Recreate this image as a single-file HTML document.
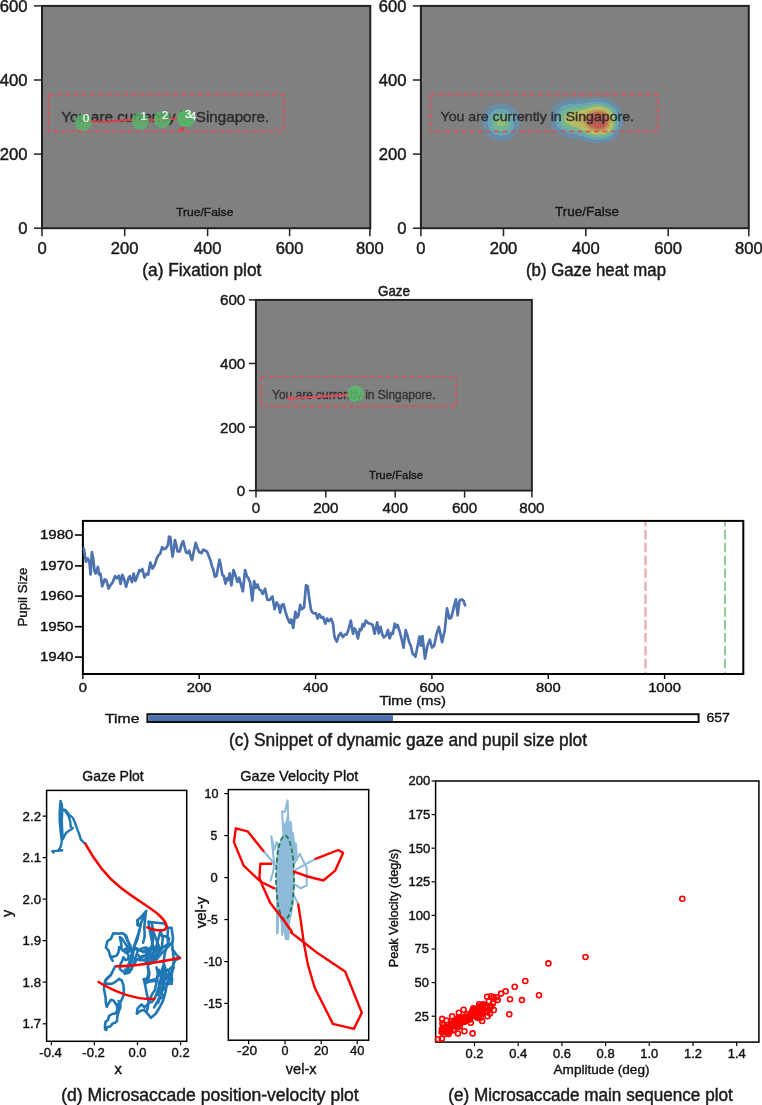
<!DOCTYPE html>
<html lang="en"><head><meta charset="utf-8"><title>Eye tracking figure</title>
<style>html,body{margin:0;padding:0;background:#fff}svg{display:block}</style></head>
<body>
<svg width="762" height="1105" viewBox="0 0 762 1105" font-family='"Liberation Sans", sans-serif'>
<defs>
<filter id="heat" filterUnits="userSpaceOnUse" x="440" y="60" width="260" height="130" color-interpolation-filters="sRGB">
<feGaussianBlur stdDeviation="10"/>
<feColorMatrix type="matrix" values="0 0 0 14.3 0  0 0 0 14.3 0  0 0 0 14.3 0  0 0 0 14.3 0"/>
<feComponentTransfer>
<feFuncR type="discrete" tableValues="0.196 0.196 0.282 0.400 0.675 0.988 1.000 1.000 1.000 1.000"/>
<feFuncG type="discrete" tableValues="0.667 0.667 0.871 0.949 1.000 1.000 0.910 0.675 0.400 0.204"/>
<feFuncB type="discrete" tableValues="1.000 1.000 0.949 0.675 0.439 0.282 0.204 0.165 0.125 0.125"/>
<feFuncA type="discrete" tableValues="0 0.32 0.42 0.46 0.48 0.48 0.48 0.48 0.48 0.48"/>
</feComponentTransfer>
<feGaussianBlur stdDeviation="0.5"/>
</filter>
<clipPath id="vclip"><rect x="229" y="790.3" width="139" height="249.2"/></clipPath>
</defs>
<rect width="762" height="1105" fill="#ffffff"/>
<rect x="42.00" y="5.90" width="328.30" height="222.30" fill="#808080" stroke="#222222" stroke-width="2.0"/>
<line x1="42.00" y1="228.20" x2="42.00" y2="236.20" stroke="#222222" stroke-width="1.5"/>
<text x="42.0" y="254.2" font-size="16.6" text-anchor="middle" fill="#1a1a1a" stroke="#1a1a1a" stroke-width="0.45">0</text>
<line x1="124.70" y1="228.20" x2="124.70" y2="236.20" stroke="#222222" stroke-width="1.5"/>
<text x="124.7" y="254.2" font-size="16.6" text-anchor="middle" fill="#1a1a1a" stroke="#1a1a1a" stroke-width="0.45">200</text>
<line x1="207.60" y1="228.20" x2="207.60" y2="236.20" stroke="#222222" stroke-width="1.5"/>
<text x="207.6" y="254.2" font-size="16.6" text-anchor="middle" fill="#1a1a1a" stroke="#1a1a1a" stroke-width="0.45">400</text>
<line x1="289.60" y1="228.20" x2="289.60" y2="236.20" stroke="#222222" stroke-width="1.5"/>
<text x="289.6" y="254.2" font-size="16.6" text-anchor="middle" fill="#1a1a1a" stroke="#1a1a1a" stroke-width="0.45">600</text>
<line x1="369.90" y1="228.20" x2="369.90" y2="236.20" stroke="#222222" stroke-width="1.5"/>
<text x="369.9" y="254.2" font-size="16.6" text-anchor="middle" fill="#1a1a1a" stroke="#1a1a1a" stroke-width="0.45">800</text>
<line x1="34.00" y1="228.20" x2="42.00" y2="228.20" stroke="#222222" stroke-width="1.5"/>
<text x="27.5" y="234.2" font-size="16.6" text-anchor="end" fill="#1a1a1a" stroke="#1a1a1a" stroke-width="0.45">0</text>
<line x1="34.00" y1="154.10" x2="42.00" y2="154.10" stroke="#222222" stroke-width="1.5"/>
<text x="27.5" y="160.1" font-size="16.6" text-anchor="end" fill="#1a1a1a" stroke="#1a1a1a" stroke-width="0.45">200</text>
<line x1="34.00" y1="80.00" x2="42.00" y2="80.00" stroke="#222222" stroke-width="1.5"/>
<text x="27.5" y="86.0" font-size="16.6" text-anchor="end" fill="#1a1a1a" stroke="#1a1a1a" stroke-width="0.45">400</text>
<line x1="34.00" y1="5.90" x2="42.00" y2="5.90" stroke="#222222" stroke-width="1.5"/>
<text x="27.5" y="11.9" font-size="16.6" text-anchor="end" fill="#1a1a1a" stroke="#1a1a1a" stroke-width="0.45">600</text>
<rect x="48.5" y="94.6" width="235.2" height="37" fill="none" stroke="#e34a54" stroke-width="1.5" stroke-dasharray="4.8 3.5"/>
<text x="61.2" y="121.6" font-size="14.3" text-anchor="start" textLength="208.1" lengthAdjust="spacingAndGlyphs" fill="#2b2b2b" stroke="#2b2b2b" stroke-width="0.35">You are currently in Singapore.</text>
<polyline points="83.2,122.2 92.0,121.2 100.4,122.0 129.8,119.9 140.3,121.1 162.3,119.4 185.4,118.3" fill="none" stroke="#dc3f49" stroke-width="2.2" stroke-linejoin="round" stroke-linecap="round" opacity="0.95"/>
<polyline points="187.5,123.5 185.6,127.4 182.4,128.6" fill="none" stroke="#dc3f49" stroke-width="1.4" stroke-linejoin="round" stroke-linecap="round" opacity="0.95"/>
<path d="M178.6 129.6 L183.6 126.2 L184.2 131.4 Z" fill="#dc3f49"/>
<circle cx="83.2" cy="122.5" r="8.6" fill="#57b469" fill-opacity="0.8"/>
<circle cx="140.3" cy="121.1" r="8.6" fill="#57b469" fill-opacity="0.8"/>
<circle cx="162.3" cy="119.4" r="8.6" fill="#57b469" fill-opacity="0.8"/>
<circle cx="185.4" cy="118.3" r="8.6" fill="#57b469" fill-opacity="0.8"/>
<circle cx="186.6" cy="118.6" r="8.6" fill="#57b469" fill-opacity="0.8"/>
<text x="86.1" y="122.3" font-size="11.2" text-anchor="middle" fill="#ffffff" stroke="#ffffff" stroke-width="0.15">0</text>
<text x="143.9" y="120.2" font-size="11.2" text-anchor="middle" fill="#ffffff" stroke="#ffffff" stroke-width="0.15">1</text>
<text x="165.1" y="118.8" font-size="11.2" text-anchor="middle" fill="#ffffff" stroke="#ffffff" stroke-width="0.15">2</text>
<text x="188.0" y="118.1" font-size="11.2" text-anchor="middle" fill="#ffffff" stroke="#ffffff" stroke-width="0.15">3</text>
<text x="193.0" y="120.2" font-size="11.2" text-anchor="middle" fill="#ffffff" stroke="#ffffff" stroke-width="0.15">4</text>
<text x="204.7" y="215.6" font-size="11.8" text-anchor="middle" textLength="57.5" lengthAdjust="spacingAndGlyphs" fill="#151515" stroke="#151515" stroke-width="0.35">True/False</text>
<text x="201.8" y="276.0" font-size="17.5" text-anchor="middle" textLength="119.0" lengthAdjust="spacingAndGlyphs" fill="#1a1a1a" stroke="#1a1a1a" stroke-width="0.45">(a) Fixation plot</text>
<rect x="420.90" y="5.90" width="327.90" height="222.30" fill="#808080" stroke="#222222" stroke-width="2.0"/>
<line x1="420.90" y1="228.20" x2="420.90" y2="236.20" stroke="#222222" stroke-width="1.5"/>
<text x="420.9" y="254.2" font-size="16.6" text-anchor="middle" fill="#1a1a1a" stroke="#1a1a1a" stroke-width="0.45">0</text>
<line x1="503.50" y1="228.20" x2="503.50" y2="236.20" stroke="#222222" stroke-width="1.5"/>
<text x="503.5" y="254.2" font-size="16.6" text-anchor="middle" fill="#1a1a1a" stroke="#1a1a1a" stroke-width="0.45">200</text>
<line x1="585.80" y1="228.20" x2="585.80" y2="236.20" stroke="#222222" stroke-width="1.5"/>
<text x="585.8" y="254.2" font-size="16.6" text-anchor="middle" fill="#1a1a1a" stroke="#1a1a1a" stroke-width="0.45">400</text>
<line x1="668.20" y1="228.20" x2="668.20" y2="236.20" stroke="#222222" stroke-width="1.5"/>
<text x="668.2" y="254.2" font-size="16.6" text-anchor="middle" fill="#1a1a1a" stroke="#1a1a1a" stroke-width="0.45">600</text>
<line x1="748.80" y1="228.20" x2="748.80" y2="236.20" stroke="#222222" stroke-width="1.5"/>
<text x="748.8" y="254.2" font-size="16.6" text-anchor="middle" fill="#1a1a1a" stroke="#1a1a1a" stroke-width="0.45">800</text>
<line x1="412.90" y1="228.20" x2="420.90" y2="228.20" stroke="#222222" stroke-width="1.5"/>
<text x="406.4" y="234.2" font-size="16.6" text-anchor="end" fill="#1a1a1a" stroke="#1a1a1a" stroke-width="0.45">0</text>
<line x1="412.90" y1="154.10" x2="420.90" y2="154.10" stroke="#222222" stroke-width="1.5"/>
<text x="406.4" y="160.1" font-size="16.6" text-anchor="end" fill="#1a1a1a" stroke="#1a1a1a" stroke-width="0.45">200</text>
<line x1="412.90" y1="80.00" x2="420.90" y2="80.00" stroke="#222222" stroke-width="1.5"/>
<text x="406.4" y="86.0" font-size="16.6" text-anchor="end" fill="#1a1a1a" stroke="#1a1a1a" stroke-width="0.45">400</text>
<line x1="412.90" y1="5.90" x2="420.90" y2="5.90" stroke="#222222" stroke-width="1.5"/>
<text x="406.4" y="11.9" font-size="16.6" text-anchor="end" fill="#1a1a1a" stroke="#1a1a1a" stroke-width="0.45">600</text>
<g filter="url(#heat)">
<ellipse cx="501.0" cy="122.2" rx="4" ry="4" fill="#fff" fill-opacity="0.4"/>
<ellipse cx="600.0" cy="120.8" rx="6.0" ry="3.4" fill="#fff" fill-opacity="0.8"/>
<ellipse cx="585.0" cy="119.8" rx="4" ry="4" fill="#fff" fill-opacity="0.22"/>
<ellipse cx="569.0" cy="118.4" rx="4.5" ry="4" fill="#fff" fill-opacity="0.36"/>
</g>
<text x="440.5" y="121.2" font-size="13.6" text-anchor="start" textLength="193.5" lengthAdjust="spacingAndGlyphs" fill="#2a2a2a" stroke="#2a2a2a" stroke-width="0.4" opacity="0.95">You are currently in Singapore.</text>
<rect x="430.2" y="94.6" width="227.7" height="37" fill="none" stroke="#e34a54" stroke-width="1.5" stroke-dasharray="4.8 3.5"/>
<text x="587.0" y="215.8" font-size="12.2" text-anchor="middle" textLength="64.0" lengthAdjust="spacingAndGlyphs" fill="#151515" stroke="#151515" stroke-width="0.35">True/False</text>
<text x="596.0" y="276.0" font-size="17.5" text-anchor="middle" textLength="140.0" lengthAdjust="spacingAndGlyphs" fill="#1a1a1a" stroke="#1a1a1a" stroke-width="0.45">(b) Gaze heat map</text>
<rect x="255.90" y="299.90" width="276.00" height="190.70" fill="#808080" stroke="#222222" stroke-width="1.9"/>
<line x1="256.00" y1="490.60" x2="256.00" y2="497.60" stroke="#222222" stroke-width="1.5"/>
<text x="256.0" y="513.2" font-size="15.2" text-anchor="middle" fill="#1a1a1a" stroke="#1a1a1a" stroke-width="0.45">0</text>
<line x1="325.80" y1="490.60" x2="325.80" y2="497.60" stroke="#222222" stroke-width="1.5"/>
<text x="325.8" y="513.2" font-size="15.2" text-anchor="middle" fill="#1a1a1a" stroke="#1a1a1a" stroke-width="0.45">200</text>
<line x1="395.20" y1="490.60" x2="395.20" y2="497.60" stroke="#222222" stroke-width="1.5"/>
<text x="395.2" y="513.2" font-size="15.2" text-anchor="middle" fill="#1a1a1a" stroke="#1a1a1a" stroke-width="0.45">400</text>
<line x1="464.60" y1="490.60" x2="464.60" y2="497.60" stroke="#222222" stroke-width="1.5"/>
<text x="464.6" y="513.2" font-size="15.2" text-anchor="middle" fill="#1a1a1a" stroke="#1a1a1a" stroke-width="0.45">600</text>
<line x1="531.90" y1="490.60" x2="531.90" y2="497.60" stroke="#222222" stroke-width="1.5"/>
<text x="531.9" y="513.2" font-size="15.2" text-anchor="middle" fill="#1a1a1a" stroke="#1a1a1a" stroke-width="0.45">800</text>
<line x1="248.90" y1="490.60" x2="255.90" y2="490.60" stroke="#222222" stroke-width="1.5"/>
<text x="245.3" y="496.1" font-size="15.2" text-anchor="end" fill="#1a1a1a" stroke="#1a1a1a" stroke-width="0.45">0</text>
<line x1="248.90" y1="427.03" x2="255.90" y2="427.03" stroke="#222222" stroke-width="1.5"/>
<text x="245.3" y="432.5" font-size="15.2" text-anchor="end" fill="#1a1a1a" stroke="#1a1a1a" stroke-width="0.45">200</text>
<line x1="248.90" y1="363.47" x2="255.90" y2="363.47" stroke="#222222" stroke-width="1.5"/>
<text x="245.3" y="368.9" font-size="15.2" text-anchor="end" fill="#1a1a1a" stroke="#1a1a1a" stroke-width="0.45">400</text>
<line x1="248.90" y1="299.90" x2="255.90" y2="299.90" stroke="#222222" stroke-width="1.5"/>
<text x="245.3" y="305.4" font-size="15.2" text-anchor="end" fill="#1a1a1a" stroke="#1a1a1a" stroke-width="0.45">600</text>
<text x="394.0" y="295.6" font-size="14.6" text-anchor="middle" textLength="32.0" lengthAdjust="spacingAndGlyphs" fill="#1a1a1a" stroke="#1a1a1a" stroke-width="0.5">Gaze</text>
<rect x="261.1" y="376.6" width="195.1" height="29.7" fill="none" stroke="#e34a54" stroke-width="1.4" stroke-dasharray="4.6 3.2"/>
<text x="272.1" y="398.6" font-size="12.0" text-anchor="start" textLength="163.4" lengthAdjust="spacingAndGlyphs" fill="#333333" stroke="#333333" stroke-width="0.35">You are currently in Singapore.</text>
<line x1="349.00" y1="394.90" x2="289.50" y2="398.50" stroke="#e04c56" stroke-width="2.1"/>
<path d="M286.0 398.8 L292.0 395.6 L292.3 401.2 Z" fill="#e04c56"/>
<circle cx="355.6" cy="393.9" r="8.3" fill="#58c06c" fill-opacity="0.8"/>
<text x="396.0" y="479.0" font-size="11.2" text-anchor="middle" textLength="54.0" lengthAdjust="spacingAndGlyphs" fill="#151515" stroke="#151515" stroke-width="0.35">True/False</text>
<rect x="82.9" y="520.9" width="660.4" height="153.1" fill="#fff" stroke="#000" stroke-width="2"/>
<line x1="82.90" y1="674.00" x2="82.90" y2="679.00" stroke="#000" stroke-width="1.4"/>
<text x="82.9" y="692.0" font-size="12.2" text-anchor="middle" textLength="8.2" lengthAdjust="spacingAndGlyphs" fill="#111" stroke="#111" stroke-width="0.35">0</text>
<line x1="199.24" y1="674.00" x2="199.24" y2="679.00" stroke="#000" stroke-width="1.4"/>
<text x="199.2" y="692.0" font-size="12.2" text-anchor="middle" textLength="24.7" lengthAdjust="spacingAndGlyphs" fill="#111" stroke="#111" stroke-width="0.35">200</text>
<line x1="315.58" y1="674.00" x2="315.58" y2="679.00" stroke="#000" stroke-width="1.4"/>
<text x="315.6" y="692.0" font-size="12.2" text-anchor="middle" textLength="24.7" lengthAdjust="spacingAndGlyphs" fill="#111" stroke="#111" stroke-width="0.35">400</text>
<line x1="431.92" y1="674.00" x2="431.92" y2="679.00" stroke="#000" stroke-width="1.4"/>
<text x="431.9" y="692.0" font-size="12.2" text-anchor="middle" textLength="24.7" lengthAdjust="spacingAndGlyphs" fill="#111" stroke="#111" stroke-width="0.35">600</text>
<line x1="548.26" y1="674.00" x2="548.26" y2="679.00" stroke="#000" stroke-width="1.4"/>
<text x="548.3" y="692.0" font-size="12.2" text-anchor="middle" textLength="24.7" lengthAdjust="spacingAndGlyphs" fill="#111" stroke="#111" stroke-width="0.35">800</text>
<line x1="664.60" y1="674.00" x2="664.60" y2="679.00" stroke="#000" stroke-width="1.4"/>
<text x="664.6" y="692.0" font-size="12.2" text-anchor="middle" textLength="32.9" lengthAdjust="spacingAndGlyphs" fill="#111" stroke="#111" stroke-width="0.35">1000</text>
<line x1="74.90" y1="535.00" x2="82.90" y2="535.00" stroke="#000" stroke-width="1.6"/>
<text x="73.4" y="539.3" font-size="12.2" text-anchor="end" textLength="33.4" lengthAdjust="spacingAndGlyphs" fill="#111" stroke="#111" stroke-width="0.35">1980</text>
<line x1="74.90" y1="565.90" x2="82.90" y2="565.90" stroke="#000" stroke-width="1.6"/>
<text x="73.4" y="570.2" font-size="12.2" text-anchor="end" textLength="33.4" lengthAdjust="spacingAndGlyphs" fill="#111" stroke="#111" stroke-width="0.35">1970</text>
<line x1="74.90" y1="596.10" x2="82.90" y2="596.10" stroke="#000" stroke-width="1.6"/>
<text x="73.4" y="600.4" font-size="12.2" text-anchor="end" textLength="33.4" lengthAdjust="spacingAndGlyphs" fill="#111" stroke="#111" stroke-width="0.35">1960</text>
<line x1="74.90" y1="626.70" x2="82.90" y2="626.70" stroke="#000" stroke-width="1.6"/>
<text x="73.4" y="631.0" font-size="12.2" text-anchor="end" textLength="33.4" lengthAdjust="spacingAndGlyphs" fill="#111" stroke="#111" stroke-width="0.35">1950</text>
<line x1="74.90" y1="657.10" x2="82.90" y2="657.10" stroke="#000" stroke-width="1.6"/>
<text x="73.4" y="661.4" font-size="12.2" text-anchor="end" textLength="33.4" lengthAdjust="spacingAndGlyphs" fill="#111" stroke="#111" stroke-width="0.35">1940</text>
<text transform="translate(26.6,597.0) rotate(-90)" font-size="13.4" stroke="#111" stroke-width="0.35" text-anchor="middle" textLength="59" lengthAdjust="spacingAndGlyphs" fill="#111">Pupil Size</text>
<text x="412.7" y="705.2" font-size="12.6" text-anchor="middle" textLength="66.6" lengthAdjust="spacingAndGlyphs" fill="#111" stroke="#111" stroke-width="0.35">Time (ms)</text>
<line x1="645.50" y1="521.90" x2="645.50" y2="673.00" stroke="#ebb2b6" stroke-width="2.5" stroke-dasharray="9.6 3.3" stroke-dashoffset="5"/>
<line x1="725.00" y1="521.90" x2="725.00" y2="673.00" stroke="#93cc9e" stroke-width="2.1" stroke-dasharray="9.6 3.3" stroke-dashoffset="5"/>
<polyline points="83.8,548.5 85.1,556.6 86.0,561.7 87.7,558.3 89.4,561.7 90.6,574.5 91.9,552.0 93.3,559.1 94.5,571.1 95.7,573.6 97.9,566.8 99.1,574.5 100.5,573.6 102.2,586.4 104.7,579.3 106.4,580.4 108.5,588.5 110.7,584.7 112.4,583.0 115.0,576.2 116.7,578.2 118.9,575.8 120.6,583.9 122.3,574.8 124.0,578.7 126.1,586.8 128.6,577.9 129.8,576.2 132.0,582.2 133.7,573.6 135.4,581.0 137.2,576.2 139.4,570.2 140.6,571.1 142.3,569.0 144.5,577.5 146.5,573.6 148.2,574.5 150.3,562.5 152.5,568.5 154.7,565.1 156.8,558.3 158.8,554.9 160.2,553.7 162.2,547.2 163.9,549.2 166.2,548.0 167.9,545.1 169.1,536.6 170.4,537.3 171.3,547.2 172.6,556.6 173.8,548.9 175.0,540.0 176.4,545.5 177.6,551.4 179.8,551.4 181.5,544.6 183.2,541.2 184.9,548.0 186.1,552.3 187.8,553.1 189.2,550.6 190.9,557.4 192.1,560.0 194.0,550.6 195.7,542.9 197.7,548.9 199.4,552.3 201.5,553.1 203.2,549.7 205.4,550.9 205.0,550.4 207.0,551.7 208.8,556.3 210.5,560.6 211.8,565.7 213.2,569.1 214.9,576.8 216.6,575.9 218.3,565.7 219.5,559.7 220.7,564.9 222.4,575.1 223.8,575.9 225.5,583.6 226.8,578.5 228.0,580.2 229.7,573.4 231.4,585.3 233.5,570.0 234.9,573.4 236.1,577.7 237.4,581.9 239.1,577.7 240.8,583.6 242.9,591.3 245.1,570.0 246.8,575.9 248.5,578.5 250.2,582.8 252.3,600.7 254.1,581.1 255.8,587.9 257.5,584.5 259.3,589.6 261.0,590.4 262.7,593.9 265.1,588.7 267.3,599.8 269.8,599.8 272.4,596.4 274.6,609.2 276.7,602.4 278.4,604.9 280.1,612.6 281.8,604.9 283.5,604.1 285.5,611.8 287.7,618.6 289.8,622.9 291.2,619.4 293.2,628.0 295.4,611.8 297.1,617.7 298.5,615.2 300.2,604.9 301.9,609.2 304.0,607.5 306.0,585.3 307.7,586.2 309.4,599.8 311.1,610.1 312.5,612.6 314.2,613.5 315.9,613.1 317.6,618.6 319.3,614.3 321.4,617.7 323.1,616.9 325.3,623.7 327.0,618.6 328.7,621.2 331.2,618.6 333.0,623.7 334.1,634.0 335.0,638.4 336.8,641.5 338.8,635.6 340.7,632.9 342.9,637.1 344.7,634.7 346.5,634.7 348.4,630.1 350.8,620.6 353.0,633.8 354.4,628.3 356.1,631.0 357.9,638.4 359.8,629.2 361.2,630.1 362.7,624.2 364.0,626.4 365.8,620.6 368.2,623.1 370.4,623.7 372.6,625.0 374.6,633.8 377.2,622.4 378.7,633.4 380.5,626.8 382.4,634.7 383.8,637.5 386.0,635.6 387.9,630.1 389.7,638.4 391.5,632.9 392.8,633.8 394.7,623.7 396.1,627.4 397.6,625.0 399.8,632.0 401.7,639.3 403.5,647.6 405.7,630.1 407.5,635.6 409.4,643.0 410.8,645.7 412.7,654.0 414.1,654.9 415.4,656.8 417.3,647.6 419.5,636.5 420.9,645.7 422.4,636.0 425.0,658.6 427.4,645.7 429.8,639.7 432.0,647.6 434.2,645.7 436.6,633.8 438.9,626.8 442.1,642.1 444.8,630.1 447.0,608.4 449.4,618.7 451.3,617.6 453.5,608.4 455.9,599.3 457.7,615.4 459.5,600.7 461.7,599.3 463.8,601.1 465.0,605.3" fill="none" stroke="#4c72b0" stroke-width="2.7" stroke-linejoin="round" stroke-linecap="round"/>
<text x="122.2" y="722.5" font-size="12.8" text-anchor="middle" textLength="34.4" lengthAdjust="spacingAndGlyphs" fill="#111" stroke="#111" stroke-width="0.35">Time</text>
<rect x="147.4" y="714.2" width="551.2" height="7.8" fill="#fff" stroke="#111" stroke-width="2"/>
<rect x="148.4" y="715.2" width="244.6" height="5.8" fill="#4c72b0"/>
<text x="718.2" y="722.3" font-size="12.6" text-anchor="middle" textLength="23.6" lengthAdjust="spacingAndGlyphs" fill="#111" stroke="#111" stroke-width="0.35">657</text>
<text x="408.0" y="746.2" font-size="17.5" text-anchor="middle" textLength="358.0" lengthAdjust="spacingAndGlyphs" fill="#1a1a1a" stroke="#1a1a1a" stroke-width="0.45">(c) Snippet of dynamic gaze and pupil size plot</text>
<rect x="46.6" y="790.4" width="140.1" height="250.9" fill="#fff" stroke="#000" stroke-width="1.5"/>
<line x1="51.40" y1="1041.30" x2="51.40" y2="1045.30" stroke="#000" stroke-width="1.2"/>
<text x="50.6" y="1057.2" font-size="12.6" text-anchor="middle" textLength="22.6" lengthAdjust="spacingAndGlyphs" fill="#111" stroke="#111" stroke-width="0.4">-0.4</text>
<line x1="94.40" y1="1041.30" x2="94.40" y2="1045.30" stroke="#000" stroke-width="1.2"/>
<text x="93.6" y="1057.2" font-size="12.6" text-anchor="middle" textLength="22.6" lengthAdjust="spacingAndGlyphs" fill="#111" stroke="#111" stroke-width="0.4">-0.2</text>
<line x1="137.50" y1="1041.30" x2="137.50" y2="1045.30" stroke="#000" stroke-width="1.2"/>
<text x="137.5" y="1057.2" font-size="12.6" text-anchor="middle" textLength="18.0" lengthAdjust="spacingAndGlyphs" fill="#111" stroke="#111" stroke-width="0.4">0.0</text>
<line x1="180.60" y1="1041.30" x2="180.60" y2="1045.30" stroke="#000" stroke-width="1.2"/>
<text x="180.6" y="1057.2" font-size="12.6" text-anchor="middle" textLength="18.0" lengthAdjust="spacingAndGlyphs" fill="#111" stroke="#111" stroke-width="0.4">0.2</text>
<line x1="42.60" y1="816.10" x2="46.60" y2="816.10" stroke="#000" stroke-width="1.2"/>
<text x="41.0" y="820.5" font-size="12.6" text-anchor="end" textLength="18.4" lengthAdjust="spacingAndGlyphs" fill="#111" stroke="#111" stroke-width="0.4">2.2</text>
<line x1="42.60" y1="857.60" x2="46.60" y2="857.60" stroke="#000" stroke-width="1.2"/>
<text x="41.0" y="862.0" font-size="12.6" text-anchor="end" textLength="18.4" lengthAdjust="spacingAndGlyphs" fill="#111" stroke="#111" stroke-width="0.4">2.1</text>
<line x1="42.60" y1="899.10" x2="46.60" y2="899.10" stroke="#000" stroke-width="1.2"/>
<text x="41.0" y="903.5" font-size="12.6" text-anchor="end" textLength="18.4" lengthAdjust="spacingAndGlyphs" fill="#111" stroke="#111" stroke-width="0.4">2.0</text>
<line x1="42.60" y1="940.60" x2="46.60" y2="940.60" stroke="#000" stroke-width="1.2"/>
<text x="41.0" y="945.0" font-size="12.6" text-anchor="end" textLength="18.4" lengthAdjust="spacingAndGlyphs" fill="#111" stroke="#111" stroke-width="0.4">1.9</text>
<line x1="42.60" y1="982.10" x2="46.60" y2="982.10" stroke="#000" stroke-width="1.2"/>
<text x="41.0" y="986.5" font-size="12.6" text-anchor="end" textLength="18.4" lengthAdjust="spacingAndGlyphs" fill="#111" stroke="#111" stroke-width="0.4">1.8</text>
<line x1="42.60" y1="1023.80" x2="46.60" y2="1023.80" stroke="#000" stroke-width="1.2"/>
<text x="41.0" y="1028.2" font-size="12.6" text-anchor="end" textLength="18.4" lengthAdjust="spacingAndGlyphs" fill="#111" stroke="#111" stroke-width="0.4">1.7</text>
<text x="113.0" y="781.4" font-size="14.6" text-anchor="middle" textLength="61.5" lengthAdjust="spacingAndGlyphs" fill="#111" stroke="#111" stroke-width="0.35">Gaze Plot</text>
<text x="118.2" y="1074.0" font-size="14.6" text-anchor="middle" fill="#111" stroke="#111" stroke-width="0.45">x</text>
<text transform="translate(12.1,913.4) rotate(-90)" font-size="14.6" text-anchor="middle" fill="#111" stroke="#111" stroke-width="0.4">y</text>
<polyline points="52.3,850.9 53.4,852.5 54.4,850.9 57.6,850.9 62.3,850.4 58.6,849.8 60.7,846.7 61.8,841.4 60.7,832.0 59.7,821.5 59.7,811.0 60.5,801.0 61.8,804.7 62.3,809.9 61.8,821.5 62.3,832.0 62.8,839.3 66.0,833.0 70.2,829.9 72.8,828.3 70.7,826.7 70.2,821.5 68.6,816.2 64.9,810.5 62.3,809.4 65.5,809.9 69.1,814.7 72.8,817.8 74.9,822.5 77.5,829.9 79.6,835.1 80.7,839.3 83.8,842.5 85.4,843.8" fill="none" stroke="#1f77b4" stroke-width="2.4" stroke-linejoin="round" stroke-linecap="round"/>
<polyline points="146.3,910.9 141.9,916.0 137.6,920.4 138.0,924.7 140.7,923.9 143.5,916.8 145.9,911.3 145.1,919.2 144.3,927.0 144.7,936.5 143.1,942.8" fill="none" stroke="#1f77b4" stroke-width="2.6" stroke-linejoin="round" stroke-linecap="round"/>
<polyline points="140.7,925.5 138.8,932.6 136.0,940.4 133.7,947.5 131.3,955.4 128.9,963.3 126.6,970.4 125.0,973.5" fill="none" stroke="#1f77b4" stroke-width="2.6" stroke-linejoin="round" stroke-linecap="round"/>
<polyline points="148.6,921.9 156.5,922.7 164.4,923.5 167.9,927.8 171.5,927.8 172.2,932.6 173.0,938.1 172.2,944.4 173.0,952.2 173.8,960.1 173.0,968.0 171.5,975.9" fill="none" stroke="#1f77b4" stroke-width="2.6" stroke-linejoin="round" stroke-linecap="round"/>
<polyline points="148.6,921.9 149.4,928.6 151.0,936.5 152.6,944.4 154.9,950.7 152.6,956.2 148.6,960.1" fill="none" stroke="#1f77b4" stroke-width="2.6" stroke-linejoin="round" stroke-linecap="round"/>
<polyline points="151.8,923.1 153.3,931.0 155.7,938.1 158.1,944.4 159.6,949.1 156.5,955.4 152.6,960.1 148.6,964.8" fill="none" stroke="#1f77b4" stroke-width="2.6" stroke-linejoin="round" stroke-linecap="round"/>
<polyline points="159.6,934.9 165.9,936.5 169.1,938.1 167.5,944.4 162.8,947.5 158.9,952.2 156.5,957.0" fill="none" stroke="#1f77b4" stroke-width="2.6" stroke-linejoin="round" stroke-linecap="round"/>
<polyline points="167.9,928.6 167.5,936.5 168.3,944.4 165.9,949.1 164.4,955.4 163.6,963.3 164.4,971.1 165.9,975.9" fill="none" stroke="#1f77b4" stroke-width="2.6" stroke-linejoin="round" stroke-linecap="round"/>
<polyline points="171.5,942.8 167.5,947.5 162.0,953.0 156.5,959.3 151.8,963.3" fill="none" stroke="#1f77b4" stroke-width="2.6" stroke-linejoin="round" stroke-linecap="round"/>
<polyline points="172.2,949.1 176.2,954.6 180.1,958.1 175.4,960.1 173.0,964.8" fill="none" stroke="#1f77b4" stroke-width="2.6" stroke-linejoin="round" stroke-linecap="round"/>
<polyline points="125.0,934.9 127.4,940.4 130.5,945.9 128.9,949.9 125.0,949.1" fill="none" stroke="#1f77b4" stroke-width="2.6" stroke-linejoin="round" stroke-linecap="round"/>
<polyline points="125.0,952.2 129.7,951.5 135.2,949.1 140.7,950.7 146.3,952.2 151.0,955.4 154.9,960.1" fill="none" stroke="#1f77b4" stroke-width="2.6" stroke-linejoin="round" stroke-linecap="round"/>
<polyline points="134.4,947.5 138.4,949.1 136.8,953.8 140.0,957.0 144.7,955.4 148.6,952.2 152.6,949.1 147.8,949.1 143.1,952.2" fill="none" stroke="#1f77b4" stroke-width="2.6" stroke-linejoin="round" stroke-linecap="round"/>
<polyline points="144.7,950.7 150.2,952.2 148.6,958.5 145.5,961.7 151.0,961.7 154.1,957.0 156.5,953.8" fill="none" stroke="#1f77b4" stroke-width="2.6" stroke-linejoin="round" stroke-linecap="round"/>
<polyline points="147.8,966.4 148.6,972.7 147.0,979.0 143.9,979.0 145.5,983.7 150.2,980.6 156.5,979.0 158.1,974.3 161.2,972.7 165.9,973.5 170.7,975.9 171.5,983.7" fill="none" stroke="#1f77b4" stroke-width="2.6" stroke-linejoin="round" stroke-linecap="round"/>
<polyline points="158.9,973.5 162.0,977.4 165.9,979.0 169.1,975.9 170.7,980.6 167.5,984.5 162.8,983.7 159.6,980.6 158.9,985.0" fill="none" stroke="#1f77b4" stroke-width="2.6" stroke-linejoin="round" stroke-linecap="round"/>
<polyline points="151.0,928.6 153.3,938.1 151.8,945.9 148.6,952.2 147.0,957.0 151.0,955.4 155.7,949.1 158.1,939.6 160.4,931.0 162.8,938.1 162.0,945.9 159.6,952.2" fill="none" stroke="#1f77b4" stroke-width="2.6" stroke-linejoin="round" stroke-linecap="round"/>
<polyline points="140.7,949.1 145.5,947.5 150.2,949.1 154.9,947.5 158.9,945.9 156.5,950.7 151.8,953.8 147.0,955.4 142.3,957.0 139.2,960.1 143.9,960.1 148.6,957.0" fill="none" stroke="#1f77b4" stroke-width="2.6" stroke-linejoin="round" stroke-linecap="round"/>
<polyline points="147.8,966.6 149.4,972.9 148.6,978.4 143.9,979.6 145.5,987.0 147.0,994.9 148.6,1002.0 147.8,1007.5 146.3,1012.2 151.0,1017.8 155.7,1013.8 159.6,1007.5 162.8,1001.2 165.2,993.3 166.7,985.5 169.1,983.1 171.5,983.9 172.2,979.2 170.7,972.9 173.8,967.4" fill="none" stroke="#1f77b4" stroke-width="2.6" stroke-linejoin="round" stroke-linecap="round"/>
<polyline points="143.9,979.6 151.0,981.5 156.5,980.7" fill="none" stroke="#1f77b4" stroke-width="2.6" stroke-linejoin="round" stroke-linecap="round"/>
<polyline points="156.5,967.4 158.1,974.4 156.5,982.3 154.9,990.2 152.6,993.3 150.2,998.1 148.6,1002.8 151.8,1002.0 154.9,998.1 157.3,991.8 159.6,984.7 161.2,976.8 162.0,968.9" fill="none" stroke="#1f77b4" stroke-width="2.6" stroke-linejoin="round" stroke-linecap="round"/>
<polyline points="148.6,1002.8 144.7,1007.5 141.5,1004.4 137.6,1008.3 136.8,1013.8 140.7,1010.7 143.9,1009.9 146.3,1012.2" fill="none" stroke="#1f77b4" stroke-width="2.6" stroke-linejoin="round" stroke-linecap="round"/>
<polyline points="159.6,971.3 162.8,977.6 165.9,974.4 169.1,979.2 165.9,983.9 162.0,982.3 164.4,988.6 161.2,991.8 163.6,996.5 159.6,998.9 158.1,1002.8" fill="none" stroke="#1f77b4" stroke-width="2.6" stroke-linejoin="round" stroke-linecap="round"/>
<polyline points="164.4,965.0 165.9,971.3 169.1,969.7 172.2,966.6" fill="none" stroke="#1f77b4" stroke-width="2.6" stroke-linejoin="round" stroke-linecap="round"/>
<polyline points="158.9,969.7 160.4,976.0 164.4,980.7 167.5,976.8 169.9,972.9 167.5,969.7 164.4,972.1 161.2,980.7 159.6,988.6 158.1,994.9" fill="none" stroke="#1f77b4" stroke-width="2.6" stroke-linejoin="round" stroke-linecap="round"/>
<polyline points="162.8,966.6 164.4,974.4 162.8,985.5 160.4,994.9 157.3,1002.0 154.1,1007.5" fill="none" stroke="#1f77b4" stroke-width="2.6" stroke-linejoin="round" stroke-linecap="round"/>
<polyline points="125.0,969.7 128.1,971.3 131.3,968.9" fill="none" stroke="#1f77b4" stroke-width="2.6" stroke-linejoin="round" stroke-linecap="round"/>
<polyline points="112.7,960.8 110.4,956.6 108.6,950.7 105.9,947.5 107.4,941.3 110.9,938.9 113.3,933.3 118.6,933.6 122.8,933.3 126.3,935.9 128.1,941.9 130.4,946.6 131.0,949.5" fill="none" stroke="#1f77b4" stroke-width="2.6" stroke-linejoin="round" stroke-linecap="round"/>
<polyline points="110.4,956.6 113.9,956.6 116.9,955.4 118.6,951.9 119.2,947.2 121.6,947.8 121.0,942.4 119.8,937.1 122.2,938.9 124.5,942.4 126.9,946.0 129.3,948.4" fill="none" stroke="#1f77b4" stroke-width="2.6" stroke-linejoin="round" stroke-linecap="round"/>
<polyline points="119.2,947.2 123.4,950.7 126.3,948.4 129.8,950.7 133.4,950.7" fill="none" stroke="#1f77b4" stroke-width="2.6" stroke-linejoin="round" stroke-linecap="round"/>
<polyline points="123.4,950.7 126.9,953.1 128.7,955.4 128.1,959.0 125.7,960.2 123.4,957.2 122.2,960.8 120.4,964.3 119.8,969.0 122.8,971.4 125.1,973.8 129.3,972.6 131.6,969.0 134.0,962.5 136.3,955.4" fill="none" stroke="#1f77b4" stroke-width="2.6" stroke-linejoin="round" stroke-linecap="round"/>
<polyline points="115.1,966.7 113.3,970.2 110.9,974.9 108.0,977.9 105.6,980.0" fill="none" stroke="#1f77b4" stroke-width="2.6" stroke-linejoin="round" stroke-linecap="round"/>
<polyline points="139.3,930.6 137.5,938.9 134.6,946.0 133.4,950.7 132.8,957.8 130.4,964.9 126.9,970.8" fill="none" stroke="#1f77b4" stroke-width="2.6" stroke-linejoin="round" stroke-linecap="round"/>
<polyline points="137.5,920.0 137.5,925.3 140.0,925.9" fill="none" stroke="#1f77b4" stroke-width="2.6" stroke-linejoin="round" stroke-linecap="round"/>
<polyline points="140.0,957.8 136.3,960.2 134.0,964.9" fill="none" stroke="#1f77b4" stroke-width="2.6" stroke-linejoin="round" stroke-linecap="round"/>
<polyline points="110.9,975.0 106.8,978.5 104.7,982.1 106.8,983.9 111.5,983.9 115.1,982.1 119.2,978.8 121.6,980.3 123.4,985.0 123.9,990.4 123.4,995.7 121.6,999.8 119.8,1003.4 120.4,1007.5 118.6,1011.6 117.4,1016.3 116.9,1021.1 115.1,1022.8 112.7,1023.4 110.4,1026.4 107.4,1027.0 106.2,1029.9 105.0,1029.3 105.0,1025.2 105.6,1021.7 108.0,1019.9 109.2,1015.8 112.1,1014.0 115.7,1013.4 117.4,1009.8 116.9,1005.7 115.1,1002.8 113.3,1000.4 110.9,999.8 108.6,1003.4 106.8,1006.9 105.9,1003.4 105.6,997.4 104.7,992.7 103.9,988.6 104.7,983.9" fill="none" stroke="#1f77b4" stroke-width="2.6" stroke-linejoin="round" stroke-linecap="round"/>
<polyline points="118.6,1001.0 120.4,1004.5 118.6,1008.1 117.4,1004.5 119.2,1002.2" fill="none" stroke="#1f77b4" stroke-width="2.6" stroke-linejoin="round" stroke-linecap="round"/>
<path d="M85.4 843.8 C96 863 106 876 119.6 886.7 C136 900 152 908 160 916 C170 926 168 931 158 930.3 C153 930 150 928.6 147.2 927.4" fill="none" stroke="#ff0000" stroke-width="2.5" stroke-linecap="round"/>
<path d="M116.2 966.3 C138 966 160 962 179.9 957.7" fill="none" stroke="#ff0000" stroke-width="2.5" stroke-linecap="round"/>
<path d="M98.5 982 C115 992 135 999.5 154.3 999.1" fill="none" stroke="#ff0000" stroke-width="2.5" stroke-linecap="round"/>
<rect x="228.3" y="789.6" width="140.4" height="250.6" fill="#fff" stroke="#000" stroke-width="1.5"/>
<line x1="248.60" y1="1040.20" x2="248.60" y2="1044.20" stroke="#000" stroke-width="1.2"/>
<text x="247.1" y="1055.4" font-size="12.4" text-anchor="middle" textLength="20.0" lengthAdjust="spacingAndGlyphs" fill="#111" stroke="#111" stroke-width="0.35">-20</text>
<line x1="285.00" y1="1040.20" x2="285.00" y2="1044.20" stroke="#000" stroke-width="1.2"/>
<text x="285.0" y="1055.4" font-size="12.4" text-anchor="middle" textLength="7.0" lengthAdjust="spacingAndGlyphs" fill="#111" stroke="#111" stroke-width="0.35">0</text>
<line x1="321.20" y1="1040.20" x2="321.20" y2="1044.20" stroke="#000" stroke-width="1.2"/>
<text x="321.2" y="1055.4" font-size="12.4" text-anchor="middle" textLength="14.4" lengthAdjust="spacingAndGlyphs" fill="#111" stroke="#111" stroke-width="0.35">20</text>
<line x1="357.20" y1="1040.20" x2="357.20" y2="1044.20" stroke="#000" stroke-width="1.2"/>
<text x="357.2" y="1055.4" font-size="12.4" text-anchor="middle" textLength="14.4" lengthAdjust="spacingAndGlyphs" fill="#111" stroke="#111" stroke-width="0.35">40</text>
<line x1="224.30" y1="793.60" x2="228.30" y2="793.60" stroke="#000" stroke-width="1.2"/>
<text x="211.6" y="798.1" font-size="12.6" text-anchor="middle" textLength="14.0" lengthAdjust="spacingAndGlyphs" fill="#111" stroke="#111" stroke-width="0.4">10</text>
<line x1="224.30" y1="835.60" x2="228.30" y2="835.60" stroke="#000" stroke-width="1.2"/>
<text x="213.8" y="840.1" font-size="12.6" text-anchor="middle" textLength="6.8" lengthAdjust="spacingAndGlyphs" fill="#111" stroke="#111" stroke-width="0.4">5</text>
<line x1="224.30" y1="877.60" x2="228.30" y2="877.60" stroke="#000" stroke-width="1.2"/>
<text x="214.0" y="882.1" font-size="12.6" text-anchor="middle" textLength="7.2" lengthAdjust="spacingAndGlyphs" fill="#111" stroke="#111" stroke-width="0.4">0</text>
<line x1="224.30" y1="919.60" x2="228.30" y2="919.60" stroke="#000" stroke-width="1.2"/>
<text x="212.4" y="924.1" font-size="12.6" text-anchor="middle" textLength="11.0" lengthAdjust="spacingAndGlyphs" fill="#111" stroke="#111" stroke-width="0.4">-5</text>
<line x1="224.30" y1="961.60" x2="228.30" y2="961.60" stroke="#000" stroke-width="1.2"/>
<text x="212.9" y="966.1" font-size="12.6" text-anchor="middle" textLength="18.4" lengthAdjust="spacingAndGlyphs" fill="#111" stroke="#111" stroke-width="0.4">-10</text>
<line x1="224.30" y1="1003.40" x2="228.30" y2="1003.40" stroke="#000" stroke-width="1.2"/>
<text x="212.9" y="1007.9" font-size="12.6" text-anchor="middle" textLength="18.4" lengthAdjust="spacingAndGlyphs" fill="#111" stroke="#111" stroke-width="0.4">-15</text>
<text x="299.3" y="781.2" font-size="14.6" text-anchor="middle" textLength="118.0" lengthAdjust="spacingAndGlyphs" fill="#111" stroke="#111" stroke-width="0.35">Gaze Velocity Plot</text>
<text x="301.2" y="1073.7" font-size="14.0" text-anchor="middle" textLength="30.8" lengthAdjust="spacingAndGlyphs" fill="#111" stroke="#111" stroke-width="0.35">vel-x</text>
<text transform="translate(206.0,912.5) rotate(-90)" font-size="14.4" stroke="#111" stroke-width="0.4" text-anchor="middle" textLength="31.5" lengthAdjust="spacingAndGlyphs" fill="#111">vel-y</text>
<g clip-path="url(#vclip)">
<polyline points="284.1,844.1 282.1,811.6 285.0,811.6 287.6,800.4 288.4,822.4 290.9,822.4 291.5,832.2 292.9,833.2 293.9,842.1 295.9,844.1 296.9,859.8" fill="none" stroke="#8fbbda" stroke-width="2.1" stroke-linejoin="round" stroke-linecap="round"/>
<polyline points="274.2,863.7 271.3,836.2 274.2,850.0 276.6,842.1 278.1,846.0" fill="none" stroke="#8fbbda" stroke-width="2.1" stroke-linejoin="round" stroke-linecap="round"/>
<polyline points="270.7,880.5 273.2,871.6 274.2,863.7" fill="none" stroke="#8fbbda" stroke-width="2.1" stroke-linejoin="round" stroke-linecap="round"/>
<polyline points="299.8,853.9 306.7,867.7 306.7,885.4 300.8,888.3 294.9,884.4" fill="none" stroke="#8fbbda" stroke-width="2.1" stroke-linejoin="round" stroke-linecap="round"/>
<polyline points="299.8,853.9 293.9,863.7" fill="none" stroke="#8fbbda" stroke-width="2.1" stroke-linejoin="round" stroke-linecap="round"/>
<polyline points="263.4,850.9 275.2,864.7" fill="none" stroke="#8fbbda" stroke-width="2.1" stroke-linejoin="round" stroke-linecap="round"/>
<polyline points="315.6,858.8 293.9,870.6" fill="none" stroke="#8fbbda" stroke-width="2.1" stroke-linejoin="round" stroke-linecap="round"/>
<polyline points="277.2,903.1 277.2,932.6" fill="none" stroke="#8fbbda" stroke-width="2.1" stroke-linejoin="round" stroke-linecap="round"/>
<polyline points="282.1,920.8 282.1,935.0" fill="none" stroke="#8fbbda" stroke-width="2.1" stroke-linejoin="round" stroke-linecap="round"/>
<polyline points="293.9,895.2 298.2,904.1" fill="none" stroke="#8fbbda" stroke-width="2.1" stroke-linejoin="round" stroke-linecap="round"/>
<polyline points="277.2,893.0 277.2,933.4" fill="none" stroke="#8fbbda" stroke-width="2.1" stroke-linejoin="round" stroke-linecap="round"/>
<polyline points="282.1,914.7 282.1,930.4 284.1,930.4 286.0,939.3 288.4,939.3 288.4,924.5" fill="none" stroke="#8fbbda" stroke-width="2.1" stroke-linejoin="round" stroke-linecap="round"/>
<ellipse cx="285" cy="877.6" rx="9.2" ry="42.5" fill="#8fbbda"/>
<polygon points="287.2,814.5 288.4,814.5 289.0,822.4 290.9,824.4 291.5,832.2 293.1,834.2 293.9,842.1 295.9,845.0 296.7,859.8 293.9,867.7 284.1,867.7 276.6,867.7 276.6,850.0 278.1,843.1 281.7,842.1 283.3,824.4 285.2,822.4" fill="#8fbbda"/>
<polygon points="276.6,879.3 276.6,895.0 277.8,933.4 278.5,933.4 279.3,914.7 281.7,930.4 284.1,930.8 285.6,939.3 289.0,939.3 289.6,924.5 291.9,914.7 293.9,902.9 294.9,879.3" fill="#8fbbda"/>
<ellipse cx="285" cy="877.6" rx="9.0" ry="42.0" fill="none" stroke="#1b7a4b" stroke-width="1.7" stroke-dasharray="4.8 2.6"/>
<polyline points="263.4,850.9 247.6,831.3 235.8,828.3 233.9,842.1 243.7,865.7 260.4,881.5 274.2,888.3" fill="none" stroke="#ff0000" stroke-width="2.4" stroke-linejoin="round" stroke-linecap="round"/>
<polyline points="271.3,863.7 260.4,863.7 259.4,877.5 262.4,885.4 270.3,903.1 284.1,920.8 291.9,931.7 290.9,932.4 303.7,942.2 317.5,953.1 345.1,971.4 361.8,1012.7 353.9,1028.9 332.9,1023.9 314.6,987.5 307.7,963.9 303.7,942.2 300.8,920.6 298.2,904.4" fill="none" stroke="#ff0000" stroke-width="2.4" stroke-linejoin="round" stroke-linecap="round"/>
<polyline points="315.6,858.8 338.2,850.0 343.1,852.9 335.2,870.6 323.4,880.5 307.7,876.5 293.9,871.6" fill="none" stroke="#ff0000" stroke-width="2.4" stroke-linejoin="round" stroke-linecap="round"/>
</g>
<rect x="435.6" y="781.0" width="323.3" height="261.1" fill="#fff" stroke="#000" stroke-width="1.5"/>
<line x1="474.50" y1="1042.10" x2="474.50" y2="1046.10" stroke="#000" stroke-width="1.2"/>
<text x="474.5" y="1057.6" font-size="12.6" text-anchor="middle" textLength="18.0" lengthAdjust="spacingAndGlyphs" fill="#111" stroke="#111" stroke-width="0.4">0.2</text>
<line x1="518.20" y1="1042.10" x2="518.20" y2="1046.10" stroke="#000" stroke-width="1.2"/>
<text x="518.2" y="1057.6" font-size="12.6" text-anchor="middle" textLength="18.0" lengthAdjust="spacingAndGlyphs" fill="#111" stroke="#111" stroke-width="0.4">0.4</text>
<line x1="561.90" y1="1042.10" x2="561.90" y2="1046.10" stroke="#000" stroke-width="1.2"/>
<text x="561.9" y="1057.6" font-size="12.6" text-anchor="middle" textLength="18.0" lengthAdjust="spacingAndGlyphs" fill="#111" stroke="#111" stroke-width="0.4">0.6</text>
<line x1="605.60" y1="1042.10" x2="605.60" y2="1046.10" stroke="#000" stroke-width="1.2"/>
<text x="605.6" y="1057.6" font-size="12.6" text-anchor="middle" textLength="18.0" lengthAdjust="spacingAndGlyphs" fill="#111" stroke="#111" stroke-width="0.4">0.8</text>
<line x1="649.30" y1="1042.10" x2="649.30" y2="1046.10" stroke="#000" stroke-width="1.2"/>
<text x="649.3" y="1057.6" font-size="12.6" text-anchor="middle" textLength="18.0" lengthAdjust="spacingAndGlyphs" fill="#111" stroke="#111" stroke-width="0.4">1.0</text>
<line x1="693.00" y1="1042.10" x2="693.00" y2="1046.10" stroke="#000" stroke-width="1.2"/>
<text x="693.0" y="1057.6" font-size="12.6" text-anchor="middle" textLength="18.0" lengthAdjust="spacingAndGlyphs" fill="#111" stroke="#111" stroke-width="0.4">1.2</text>
<line x1="736.70" y1="1042.10" x2="736.70" y2="1046.10" stroke="#000" stroke-width="1.2"/>
<text x="736.7" y="1057.6" font-size="12.6" text-anchor="middle" textLength="18.0" lengthAdjust="spacingAndGlyphs" fill="#111" stroke="#111" stroke-width="0.4">1.4</text>
<line x1="431.60" y1="781.00" x2="435.60" y2="781.00" stroke="#000" stroke-width="1.2"/>
<text x="430.4" y="785.4" font-size="12.6" text-anchor="end" textLength="21.8" lengthAdjust="spacingAndGlyphs" fill="#111" stroke="#111" stroke-width="0.4">200</text>
<line x1="431.60" y1="814.60" x2="435.60" y2="814.60" stroke="#000" stroke-width="1.2"/>
<text x="430.4" y="819.0" font-size="12.6" text-anchor="end" textLength="21.8" lengthAdjust="spacingAndGlyphs" fill="#111" stroke="#111" stroke-width="0.4">175</text>
<line x1="431.60" y1="848.20" x2="435.60" y2="848.20" stroke="#000" stroke-width="1.2"/>
<text x="430.4" y="852.6" font-size="12.6" text-anchor="end" textLength="21.8" lengthAdjust="spacingAndGlyphs" fill="#111" stroke="#111" stroke-width="0.4">150</text>
<line x1="431.60" y1="881.80" x2="435.60" y2="881.80" stroke="#000" stroke-width="1.2"/>
<text x="430.4" y="886.2" font-size="12.6" text-anchor="end" textLength="21.8" lengthAdjust="spacingAndGlyphs" fill="#111" stroke="#111" stroke-width="0.4">125</text>
<line x1="431.60" y1="915.40" x2="435.60" y2="915.40" stroke="#000" stroke-width="1.2"/>
<text x="430.4" y="919.8" font-size="12.6" text-anchor="end" textLength="21.8" lengthAdjust="spacingAndGlyphs" fill="#111" stroke="#111" stroke-width="0.4">100</text>
<line x1="431.60" y1="949.00" x2="435.60" y2="949.00" stroke="#000" stroke-width="1.2"/>
<text x="428.9" y="953.4" font-size="12.6" text-anchor="end" textLength="14.4" lengthAdjust="spacingAndGlyphs" fill="#111" stroke="#111" stroke-width="0.4">75</text>
<line x1="431.60" y1="982.60" x2="435.60" y2="982.60" stroke="#000" stroke-width="1.2"/>
<text x="428.9" y="987.0" font-size="12.6" text-anchor="end" textLength="14.4" lengthAdjust="spacingAndGlyphs" fill="#111" stroke="#111" stroke-width="0.4">50</text>
<line x1="431.60" y1="1016.20" x2="435.60" y2="1016.20" stroke="#000" stroke-width="1.2"/>
<text x="428.9" y="1020.6" font-size="12.6" text-anchor="end" textLength="14.4" lengthAdjust="spacingAndGlyphs" fill="#111" stroke="#111" stroke-width="0.4">25</text>
<text x="601.5" y="1074.2" font-size="13.4" text-anchor="middle" textLength="96.0" lengthAdjust="spacingAndGlyphs" fill="#111" stroke="#111" stroke-width="0.35">Amplitude (deg)</text>
<text transform="translate(397.6,908) rotate(-90)" font-size="13.4" stroke="#111" stroke-width="0.4" text-anchor="middle" textLength="118.5" lengthAdjust="spacingAndGlyphs" fill="#111">Peak Velocity (deg/s)</text>
<g fill="none" stroke="#ff0000" stroke-width="1.6">
<circle cx="682.3" cy="898.8" r="2.5"/>
<circle cx="585.5" cy="957.0" r="2.5"/>
<circle cx="548.4" cy="963.4" r="2.5"/>
<circle cx="525.3" cy="981.0" r="2.5"/>
<circle cx="514.7" cy="986.8" r="2.5"/>
<circle cx="539.0" cy="995.3" r="2.5"/>
<circle cx="521.9" cy="1000.1" r="2.5"/>
<circle cx="510.0" cy="999.2" r="2.5"/>
<circle cx="509.3" cy="1014.3" r="2.5"/>
<circle cx="505.7" cy="991.2" r="2.5"/>
<circle cx="501.1" cy="993.6" r="2.5"/>
<circle cx="490.9" cy="996.2" r="2.5"/>
<circle cx="487.1" cy="996.7" r="2.5"/>
<circle cx="496.8" cy="997.2" r="2.5"/>
<circle cx="497.7" cy="1000.1" r="2.5"/>
<circle cx="442.2" cy="1018.9" r="2.5"/>
<circle cx="452.1" cy="1016.3" r="2.5"/>
<circle cx="463.6" cy="1009.8" r="2.5"/>
<circle cx="472.6" cy="1033.4" r="2.5"/>
<circle cx="464.4" cy="1031.3" r="2.5"/>
<circle cx="441.9" cy="1038.5" r="2.5"/>
<circle cx="438.0" cy="1039.3" r="2.5"/>
<circle cx="464.0" cy="1021.6" r="2.5"/>
<circle cx="487.4" cy="1011.4" r="2.5"/>
<circle cx="445.3" cy="1030.2" r="2.5"/>
<circle cx="479.5" cy="1011.8" r="2.5"/>
<circle cx="444.1" cy="1024.7" r="2.5"/>
<circle cx="467.6" cy="1017.0" r="2.5"/>
<circle cx="486.1" cy="1007.3" r="2.5"/>
<circle cx="491.3" cy="1006.3" r="2.5"/>
<circle cx="461.4" cy="1022.3" r="2.5"/>
<circle cx="480.5" cy="1011.5" r="2.5"/>
<circle cx="465.8" cy="1019.4" r="2.5"/>
<circle cx="469.9" cy="1019.6" r="2.5"/>
<circle cx="457.0" cy="1024.0" r="2.5"/>
<circle cx="478.0" cy="1008.4" r="2.5"/>
<circle cx="459.9" cy="1026.4" r="2.5"/>
<circle cx="481.4" cy="1009.0" r="2.5"/>
<circle cx="449.3" cy="1030.9" r="2.5"/>
<circle cx="487.6" cy="1016.3" r="2.5"/>
<circle cx="464.3" cy="1016.7" r="2.5"/>
<circle cx="474.3" cy="1012.1" r="2.5"/>
<circle cx="464.3" cy="1021.9" r="2.5"/>
<circle cx="442.4" cy="1030.1" r="2.5"/>
<circle cx="450.9" cy="1021.2" r="2.5"/>
<circle cx="493.8" cy="1010.0" r="2.5"/>
<circle cx="493.6" cy="997.0" r="2.5"/>
<circle cx="480.4" cy="1011.5" r="2.5"/>
<circle cx="466.9" cy="1020.5" r="2.5"/>
<circle cx="446.4" cy="1020.5" r="2.5"/>
<circle cx="458.6" cy="1017.7" r="2.5"/>
<circle cx="443.8" cy="1027.9" r="2.5"/>
<circle cx="477.8" cy="1018.0" r="2.5"/>
<circle cx="443.6" cy="1034.2" r="2.5"/>
<circle cx="470.1" cy="1016.3" r="2.5"/>
<circle cx="470.2" cy="1016.9" r="2.5"/>
<circle cx="470.3" cy="1017.6" r="2.5"/>
<circle cx="476.7" cy="1016.9" r="2.5"/>
<circle cx="443.7" cy="1028.3" r="2.5"/>
<circle cx="458.8" cy="1012.8" r="2.5"/>
<circle cx="451.1" cy="1023.5" r="2.5"/>
<circle cx="481.0" cy="1017.6" r="2.5"/>
<circle cx="459.8" cy="1017.9" r="2.5"/>
<circle cx="473.1" cy="1010.4" r="2.5"/>
<circle cx="492.9" cy="1003.4" r="2.5"/>
<circle cx="451.3" cy="1024.1" r="2.5"/>
<circle cx="474.4" cy="1015.4" r="2.5"/>
<circle cx="447.6" cy="1027.6" r="2.5"/>
<circle cx="447.9" cy="1032.7" r="2.5"/>
<circle cx="463.7" cy="1018.3" r="2.5"/>
<circle cx="482.2" cy="1021.0" r="2.5"/>
<circle cx="474.2" cy="1012.7" r="2.5"/>
<circle cx="446.6" cy="1028.1" r="2.5"/>
<circle cx="475.5" cy="1013.5" r="2.5"/>
<circle cx="453.3" cy="1030.0" r="2.5"/>
<circle cx="462.0" cy="1019.2" r="2.5"/>
<circle cx="457.1" cy="1021.9" r="2.5"/>
<circle cx="489.0" cy="1009.8" r="2.5"/>
<circle cx="467.7" cy="1016.9" r="2.5"/>
<circle cx="460.1" cy="1021.2" r="2.5"/>
<circle cx="476.4" cy="1016.0" r="2.5"/>
<circle cx="480.6" cy="1013.8" r="2.5"/>
<circle cx="464.8" cy="1017.8" r="2.5"/>
<circle cx="479.0" cy="1008.2" r="2.5"/>
<circle cx="457.3" cy="1019.0" r="2.5"/>
<circle cx="460.3" cy="1020.9" r="2.5"/>
<circle cx="450.4" cy="1030.4" r="2.5"/>
<circle cx="482.0" cy="1005.3" r="2.5"/>
<circle cx="464.1" cy="1019.5" r="2.5"/>
<circle cx="490.5" cy="1007.1" r="2.5"/>
<circle cx="473.3" cy="1008.4" r="2.5"/>
<circle cx="465.7" cy="1018.6" r="2.5"/>
<circle cx="444.9" cy="1031.7" r="2.5"/>
<circle cx="446.7" cy="1028.3" r="2.5"/>
<circle cx="458.8" cy="1021.9" r="2.5"/>
<circle cx="485.3" cy="1007.7" r="2.5"/>
<circle cx="485.9" cy="1007.0" r="2.5"/>
<circle cx="469.9" cy="1016.4" r="2.5"/>
<circle cx="479.0" cy="1011.3" r="2.5"/>
<circle cx="479.2" cy="1004.3" r="2.5"/>
<circle cx="482.2" cy="1013.6" r="2.5"/>
<circle cx="481.3" cy="1010.5" r="2.5"/>
<circle cx="466.9" cy="1014.1" r="2.5"/>
<circle cx="470.2" cy="1015.4" r="2.5"/>
<circle cx="481.1" cy="1009.1" r="2.5"/>
<circle cx="454.7" cy="1026.1" r="2.5"/>
<circle cx="490.2" cy="1007.9" r="2.5"/>
<circle cx="449.7" cy="1031.4" r="2.5"/>
<circle cx="472.1" cy="1012.3" r="2.5"/>
<circle cx="472.2" cy="1010.9" r="2.5"/>
<circle cx="482.9" cy="1005.2" r="2.5"/>
<circle cx="458.7" cy="1024.5" r="2.5"/>
<circle cx="465.7" cy="1019.1" r="2.5"/>
<circle cx="469.3" cy="1018.1" r="2.5"/>
<circle cx="461.5" cy="1021.9" r="2.5"/>
<circle cx="488.9" cy="1001.2" r="2.5"/>
<circle cx="482.5" cy="1007.5" r="2.5"/>
<circle cx="479.1" cy="1006.6" r="2.5"/>
<circle cx="453.3" cy="1023.9" r="2.5"/>
<circle cx="446.8" cy="1028.6" r="2.5"/>
<circle cx="472.9" cy="1014.6" r="2.5"/>
<circle cx="442.4" cy="1023.6" r="2.5"/>
<circle cx="457.8" cy="1020.7" r="2.5"/>
<circle cx="478.7" cy="1016.2" r="2.5"/>
<circle cx="447.2" cy="1027.4" r="2.5"/>
<circle cx="475.0" cy="1010.5" r="2.5"/>
<circle cx="482.5" cy="1005.5" r="2.5"/>
<circle cx="454.0" cy="1030.3" r="2.5"/>
<circle cx="489.9" cy="1013.6" r="2.5"/>
<circle cx="460.4" cy="1018.1" r="2.5"/>
<circle cx="474.6" cy="1015.4" r="2.5"/>
<circle cx="483.3" cy="1004.3" r="2.5"/>
<circle cx="466.2" cy="1019.9" r="2.5"/>
<circle cx="490.2" cy="1006.2" r="2.5"/>
<circle cx="447.8" cy="1029.8" r="2.5"/>
<circle cx="470.8" cy="1022.8" r="2.5"/>
<circle cx="457.8" cy="1026.7" r="2.5"/>
<circle cx="465.5" cy="1016.7" r="2.5"/>
<circle cx="480.2" cy="1012.2" r="2.5"/>
<circle cx="454.6" cy="1020.7" r="2.5"/>
<circle cx="473.3" cy="1011.8" r="2.5"/>
<circle cx="457.9" cy="1033.5" r="2.5"/>
<circle cx="444.8" cy="1032.0" r="2.5"/>
<circle cx="462.3" cy="1021.1" r="2.5"/>
<circle cx="481.9" cy="1013.1" r="2.5"/>
<circle cx="448.7" cy="1034.1" r="2.5"/>
<circle cx="455.1" cy="1021.6" r="2.5"/>
<circle cx="441.6" cy="1032.1" r="2.5"/>
<circle cx="475.7" cy="1011.6" r="2.5"/>
<circle cx="442.0" cy="1029.1" r="2.5"/>
<circle cx="486.6" cy="1006.0" r="2.5"/>
<circle cx="479.9" cy="1013.8" r="2.5"/>
</g>
<text x="210.0" y="1101.0" font-size="17.5" text-anchor="middle" textLength="297.5" lengthAdjust="spacingAndGlyphs" fill="#1a1a1a" stroke="#1a1a1a" stroke-width="0.45">(d) Microsaccade position-velocity plot</text>
<text x="590.5" y="1101.0" font-size="17.5" text-anchor="middle" textLength="284.5" lengthAdjust="spacingAndGlyphs" fill="#1a1a1a" stroke="#1a1a1a" stroke-width="0.45">(e) Microsaccade main sequence plot</text>
</svg>
</body></html>
